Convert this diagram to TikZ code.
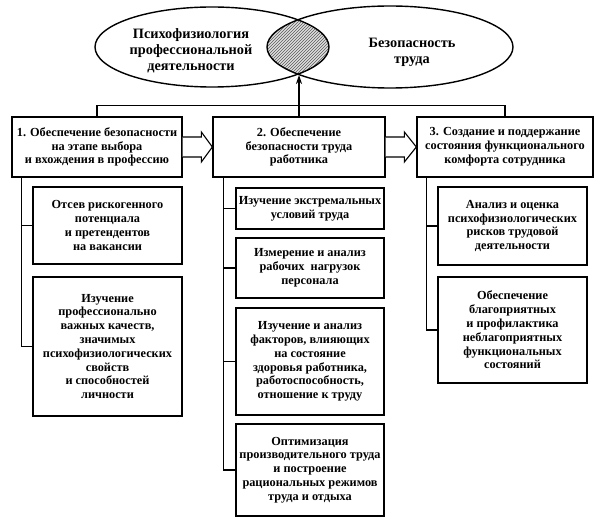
\documentclass[tikz,border=0pt]{standalone}
\usepackage{fontspec}
\setmainfont{Liberation Serif}
\usetikzlibrary{patterns,calc,arrows.meta}
\begin{document}
\begin{tikzpicture}[x=1pt,y=-1pt,
  txt/.style={font=\fontsize{12.3}{13.8}\selectfont\bfseries},
  box/.style={txt,draw,line width=1.3pt,align=center,inner sep=1pt},
  link/.style={line width=1.3pt},
  blockarrow/.style={draw,fill=white,line width=1.1pt,line join=miter},
  ell/.style={draw,line width=1.4pt}
]
\useasboundingbox (0,0) rectangle (600,524);
% ellipses
\begin{scope}
  \clip (212,47) ellipse [x radius=117, y radius=40];
  \fill[gray!25] (390,47) ellipse [x radius=123, y radius=41];
  \fill[pattern=north east lines,pattern color=black!65] (390,47) ellipse [x radius=123, y radius=41];
\end{scope}
\draw[ell] (212,47) ellipse [x radius=117, y radius=40];
\draw[ell] (390,47) ellipse [x radius=123, y radius=41];
\node[align=center,font=\fontsize{14.3}{15.8}\selectfont\bfseries] (t1) at (191,51) {Психофизиология\\профессиональной\\деятельности};
\node[align=center,font=\fontsize{14.3}{15.8}\selectfont\bfseries] (t2) at (412,52) {Безопасность\\труда};
\coordinate (lens) at (299,75);

% header boxes
\node[box,minimum width=170,minimum height=60] (h1) at (97,147) {1. Обеспечение безопасности\\на этапе выбора\\и вхождения в профессию};
\node[box,minimum width=172,minimum height=60] (h2) at (299,147) {2. Обеспечение\\безопасности труда\\работника};
\node[box,minimum width=176,minimum height=60] (h3) at (505,147) {3. Создание и поддержание\\состояния функционального\\комфорта сотрудника};

% top connectors
\draw[link] (h1.north) -- ++(0,-11) -| (h3.north);
\draw[link,-{Stealth[length=9pt,width=6pt]}] (h2.north) -- (lens);

% block arrows
\draw[blockarrow] ($(h1.east)+(0,-10)$) -- ($(h2.west)+(-11,-10)$) -- ($(h2.west)+(-11,-15)$) -- (h2.west) -- ($(h2.west)+(-11,15)$) -- ($(h2.west)+(-11,10)$) -- ($(h1.east)+(0,10)$);
\draw[blockarrow] ($(h2.east)+(0,-10)$) -- ($(h3.west)+(-12,-10)$) -- ($(h3.west)+(-12,-15)$) -- (h3.west) -- ($(h3.west)+(-12,15)$) -- ($(h3.west)+(-12,10)$) -- ($(h2.east)+(0,10)$);

% left column
\node[box,minimum width=149,minimum height=77] (l1) at (107.5,225.5) {Отсев рискогенного\\потенциала\\и претендентов\\на вакансии};
\node[box,minimum width=149,minimum height=139] (l2) at (107.5,346.5) {Изучение\\профессионально\\важных качеств,\\значимых\\психофизиологических\\свойств\\и способностей\\личности};
\coordinate (lc) at ($(h1.south west)+(10,0)$);
\draw[link] (lc) |- (l2.west);
\draw[link] (lc |- l1.west) -- (l1.west);

% middle column
\node[box,minimum width=148,minimum height=41] (m1) at (310,208.5) {Изучение экстремальных\\условий труда};
\node[box,minimum width=148,minimum height=60] (m2) at (310,268) {Измерение и анализ\\рабочих\ \ нагрузок\\персонала};
\node[box,minimum width=148,minimum height=107] (m3) at (310,361.5) {Изучение и анализ\\факторов, влияющих\\на состояние\\здоровья работника,\\работоспособность,\\отношение к труду};
\node[box,minimum width=148,minimum height=92] (m4) at (310,470) {Оптимизация\\производительного труда\\и построение\\рациональных режимов\\труда и отдыха};
\coordinate (mc) at ($(h2.south west)+(11,0)$);
\draw[link] (mc) |- (m4.west);
\draw[link] (mc |- m1.west) -- (m1.west);
\draw[link] (mc |- m2.west) -- (m2.west);
\draw[link] (mc |- m3.west) -- (m3.west);

% right column
\node[box,minimum width=149,minimum height=78] (r1) at (512.5,226) {Анализ и оценка\\психофизиологических\\рисков трудовой\\деятельности};
\node[box,minimum width=149,minimum height=106] (r2) at (512.5,330) {Обеспечение\\благоприятных\\и профилактика\\неблагоприятных\\функциональных\\состояний};
\coordinate (rc) at ($(h3.south west)+(10,0)$);
\draw[link] (rc) |- (r2.west);
\draw[link] (rc |- r1.west) -- (r1.west);
\end{tikzpicture}
\end{document}
